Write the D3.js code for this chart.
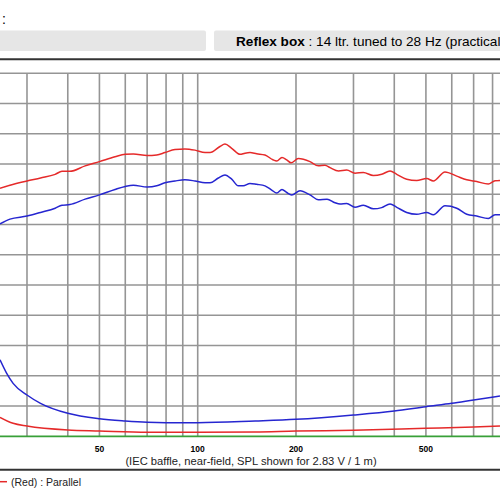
<!DOCTYPE html>
<html>
<head>
<meta charset="utf-8">
<script src="https://cdn.jsdelivr.net/npm/d3@7"></script>
<style>
  body { margin: 0; background: #fff; }
  svg { display: block; font-family: "Liberation Sans", Arial, sans-serif; }
</style>
</head>
<body>
<div id="chart"></div>
<script>
// Grid and tick values
const xGridFreqs = [30, 40, 50, 60, 70, 80, 90, 100, 200, 300, 400, 500, 600, 700, 800];
const yGridDb = [45, 50, 55, 60, 65, 70, 75, 80, 85, 90, 95, 100];
const tickFreqs = [50, 100, 200, 500];

// SPL curves [Hz, dB]
const redSpl = [
  [24.8, 81.0], [26.6, 81.5], [30, 82.2], [33, 82.7], [36.6, 83.3], [38.4, 83.8],
  [40.6, 83.8], [45.2, 84.7], [50, 85.4], [55.8, 86.2], [60, 86.6], [63.5, 86.65],
  [70, 86.4], [74.9, 86.5], [79.4, 86.9], [85.2, 87.4], [91.4, 87.5], [98.1, 87.3],
  [105.3, 86.9], [109.1, 86.9], [117, 87.9], [121.2, 88.3], [127.1, 87.6], [134.8, 86.6],
  [139.6, 86.8], [144.6, 86.9], [151.6, 86.7], [160.7, 86.5], [170, 85.7], [174.6, 85.5],
  [181.2, 86.1], [187.3, 85.7], [193.1, 85.2], [203.3, 85.9], [220.8, 85.4], [234.1, 84.7],
  [245.4, 84.8], [254.3, 84.4], [270, 83.85], [286, 84.0], [303.2, 83.5], [321.6, 83.6],
  [345.1, 83.1], [366.1, 83.3], [388.2, 83.85], [407, 83.3], [436.6, 82.5], [468.6, 82.3],
  [502.8, 82.6], [526.7, 82.2], [572, 83.7], [621.4, 83.0], [666.9, 82.4], [715.4, 82.1],
  [776.3, 81.7], [814, 82.25], [843, 82.3]
];
const blueSpl = [
  [24.8, 75.1], [26.6, 75.9], [30, 76.4], [33, 77.0], [36.6, 77.7], [38.4, 78.2],
  [40.6, 78.3], [45.2, 79.2], [50, 79.9], [55.8, 80.8], [60, 81.3], [63.5, 81.5],
  [70, 81.2], [74.9, 81.4], [79.4, 81.9], [85.2, 82.2], [91.4, 82.4], [98.1, 82.2],
  [105.3, 81.9], [109.1, 81.9], [115.7, 82.7], [121.2, 83.2], [127.1, 82.5], [133.1, 81.4],
  [137.9, 81.4], [144.6, 81.8], [151.6, 81.65], [160.7, 81.4], [168.5, 80.7], [174.6, 80.2],
  [181.2, 80.8], [187.3, 80.3], [194, 79.9], [205.8, 80.6], [220.8, 79.9], [234.1, 79.1],
  [249, 79.2], [263.4, 78.6], [272.8, 78.4], [286, 78.5], [303.2, 77.85], [321.6, 78.2],
  [345.1, 77.6], [366.1, 77.8], [388.2, 78.4], [407, 77.85], [436.6, 77.0], [468.6, 76.7],
  [502.8, 77.0], [526.7, 76.6], [572, 78.1], [621.4, 77.7], [666.9, 76.7], [715.4, 76.4],
  [776.3, 76.0], [814, 76.6], [843, 76.6]
];

// Impedance curves [Hz, ohm]
const blueImp = [
  [24.8, 25.3], [26, 20.8], [27.2, 17.5], [30, 13.65], [33, 10.9], [40, 7.6], [50, 5.8],
  [60, 5.06], [70, 4.63], [80, 4.5], [100, 4.5], [150, 5.06], [200, 5.6], [300, 7.04],
  [400, 8.36], [500, 9.8], [600, 10.9], [700, 12.0], [843, 13.3]
];
const redImp = [
  [24.8, 6.28], [27.2, 4.3], [30, 3.4], [40, 2.08], [50, 1.75], [70, 1.32], [100, 1.32],
  [150, 1.42], [200, 1.75], [300, 1.98], [500, 2.64], [700, 3.07], [843, 3.4]
];

const W = 500, H = 500;
const RED = "#e52a2a", BLUE = "#2626d0", GREEN = "#38a038", GRID = "#959595";

const svg = d3.select("#chart").append("svg").attr("width", W).attr("height", H);

// scales
const x = d3.scaleLog().domain([20, 1000]).range([-30.5, 524.2]);
const ySpl = d3.scaleLinear().domain([40, 100]).range([436.3, 73.3]);
const yImp = d3.scaleLinear().domain([0, 120]).range([436.3, 73.3]);

// header
svg.append("text").attr("x", 2).attr("y", 24).attr("font-size", 14).text(":");
svg.append("rect").attr("x", -4).attr("y", 30.5).attr("width", 210).attr("height", 20.5)
  .attr("rx", 2).attr("fill", "#e6e6e6");
svg.append("rect").attr("x", 214).attr("y", 30.5).attr("width", 300).attr("height", 20.5)
  .attr("rx", 2).attr("fill", "#e6e6e6");
const hdr = svg.append("text").attr("x", 236).attr("y", 45.5).attr("font-size", 13.6);
hdr.append("tspan").attr("font-weight", "bold").text("Reflex box");
hdr.append("tspan").text(" : 14 ltr. tuned to 28 Hz (practical");

svg.append("line").attr("x1", 0).attr("x2", W).attr("y1", 59.3).attr("y2", 59.3)
  .attr("stroke", "#333").attr("stroke-width", 2);

// grid
const plot = svg.append("g");
plot.selectAll(".vgrid").data(xGridFreqs).join("line")
  .attr("class", "vgrid")
  .attr("x1", d => x(d)).attr("x2", d => x(d))
  .attr("y1", ySpl(100)).attr("y2", ySpl(40))
  .attr("stroke", GRID).attr("stroke-width", 1.6);
plot.selectAll(".hgrid").data(yGridDb).join("line")
  .attr("class", "hgrid")
  .attr("x1", 0).attr("x2", W)
  .attr("y1", d => ySpl(d)).attr("y2", d => ySpl(d))
  .attr("stroke", GRID).attr("stroke-width", 1.6);

// green base line
plot.append("line").attr("x1", 0).attr("x2", W)
  .attr("y1", yImp(0)).attr("y2", yImp(0))
  .attr("stroke", GREEN).attr("stroke-width", 1.8);

const lineSpl = d3.line().x(d => x(d[0])).y(d => ySpl(d[1])).curve(d3.curveMonotoneX);
const lineImp = d3.line().x(d => x(d[0])).y(d => yImp(d[1])).curve(d3.curveMonotoneX);

[[blueImp, BLUE, lineImp], [redImp, RED, lineImp], [blueSpl, BLUE, lineSpl], [redSpl, RED, lineSpl]]
  .forEach(([data, color, gen]) => {
    plot.append("path").datum(data)
      .attr("d", gen)
      .attr("fill", "none")
      .attr("stroke", color)
      .attr("stroke-width", 1.5);
  });

// tick labels
svg.selectAll(".tick-label").data(tickFreqs).join("text")
  .attr("class", "tick-label")
  .attr("x", d => x(d)).attr("y", 451.5)
  .attr("text-anchor", "middle")
  .attr("font-size", 8.5).attr("font-weight", "bold")
  .text(d => d);

svg.append("text").attr("x", 251).attr("y", 464.5).attr("text-anchor", "middle")
  .attr("font-size", 11.2).attr("fill", "#222")
  .text("(IEC baffle, near-field, SPL shown for 2.83 V / 1 m)");

svg.append("line").attr("x1", 0).attr("x2", W).attr("y1", 469.8).attr("y2", 469.8)
  .attr("stroke", "#333").attr("stroke-width", 2);

// legend
svg.append("line").attr("x1", 0).attr("x2", 7).attr("y1", 481.7).attr("y2", 481.7)
  .attr("stroke", RED).attr("stroke-width", 1.5);
svg.append("text").attr("x", 11).attr("y", 485.5).attr("font-size", 10.5).attr("fill", "#222")
  .text("(Red) : Parallel");
</script>
</body>
</html>
